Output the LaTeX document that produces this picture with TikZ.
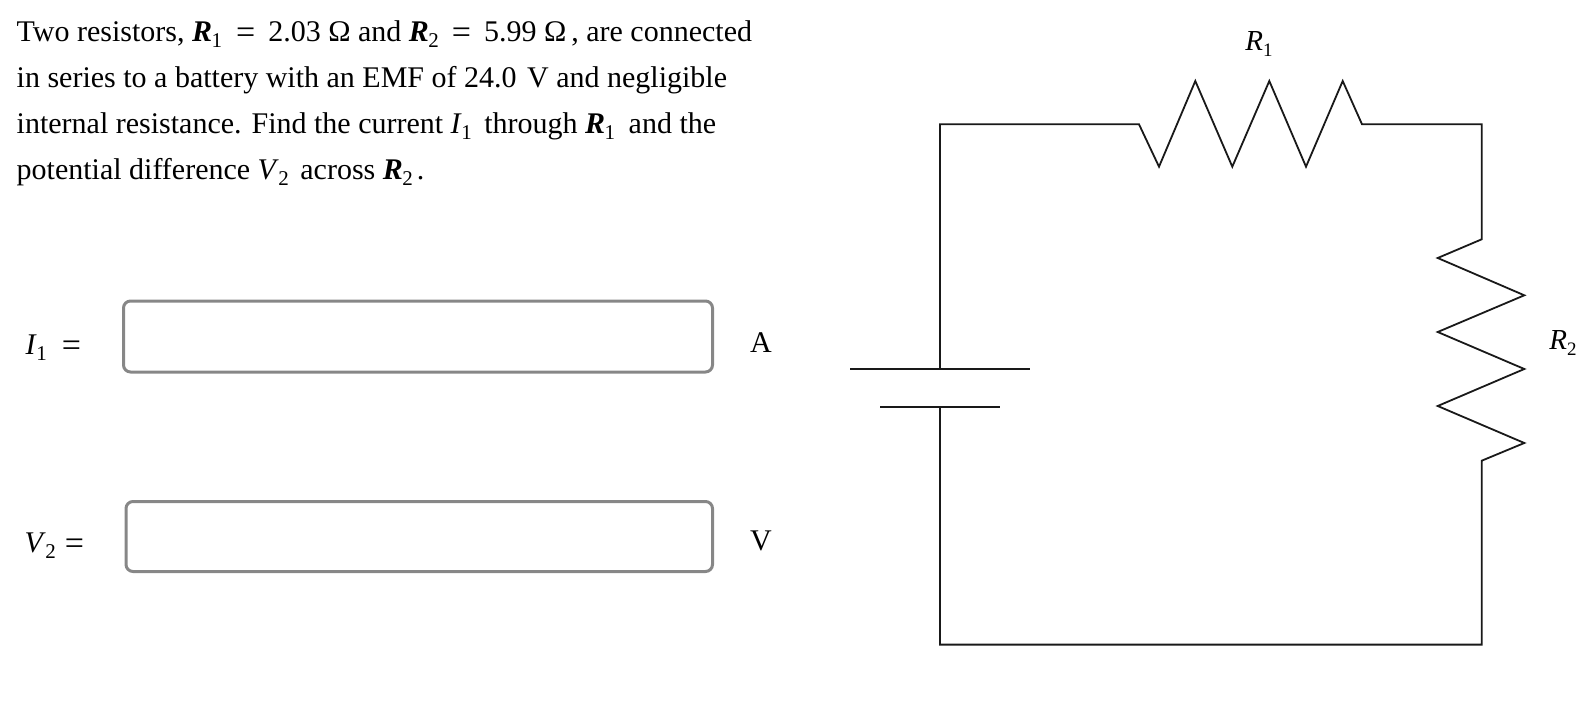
\documentclass[tikz,border=0pt]{standalone}
\usepackage{fontspec}
\setmainfont{Liberation Serif}
\usetikzlibrary{positioning}
\newcommand{\vsub}[2]{\textit{\bfseries #1}\kern-0.5pt{\fontsize{21}{21}\selectfont\raisebox{-6pt}{#2}}}
\newcommand{\lsub}[2]{\textit{#1}\kern-0.5pt{\fontsize{21}{21}\selectfont\raisebox{-6pt}{#2}}}
\newcommand{\eqsign}{\raisebox{-2pt}{\fontsize{34}{34}\selectfont =}}
\tikzset{
	wire/.style={line width=1.8pt, black!90, line join=miter},
	plate/.style={line width=1.8pt, black!90},
	answerbox/.style={line width=3pt, draw=black!47, rounded corners=7pt},
	textline/.style={anchor=base west, inner sep=0pt, font=\fontsize{30}{30}\selectfont},
	unitlabel/.style={anchor=base, inner sep=0pt, font=\fontsize{30}{30}\selectfont},
	reslabel/.style={inner sep=0pt, font=\fontsize{29}{29}\selectfont}
}
\begin{document}
\begin{tikzpicture}[x=1pt, y=-1pt]
	\useasboundingbox (0,0) rectangle (1594,714);

	\node[textline] (line1) at (16.5,42) {Two resistors, \vsub{R}{1}\hspace{14pt}\eqsign\hspace{13pt}2.03 Ω and \vsub{R}{2}\hspace{13pt}\eqsign\hspace{13pt}5.99 Ω\hspace{5pt}, are connected};
	\node[textline] (line2) at (16.5,88) {in series to a battery with an EMF of 24.0\hspace{3pt} V and negligible};
	\node[textline] (line3) at (16.5,133.5) {internal resistance. Find the current \lsub{I}{1}\hspace{5pt} through \vsub{R}{1}\hspace{6pt} and the};
	\node[textline] (line4) at (16.5,179) {potential difference \lsub{V}{2}\hspace{4pt} across \vsub{R}{2}\hspace{4pt}.};

	\draw[answerbox] (123.5,301) rectangle (712.5,372);
	\node[textline] (labelI) at (25.5,354) {\lsub{I}{1}\hspace{15pt}\eqsign};
	\node[unitlabel] (unitA) at (761,352) {A};

	\draw[answerbox] (126,501.5) rectangle (712.5,571.5);
	\node[textline] (labelV) at (24.5,552) {\lsub{V}{2}\hspace{9pt}\eqsign};
	\node[unitlabel] (unitV) at (761,550) {V};

	\coordinate (batTop) at (940,368.7);
	\coordinate (batBot) at (940,407.3);

	% top wire and first resistor
	\draw[wire] (batTop) -- (940,124.3) -- (1139,124.3)
	-- (1159,166.7) -- (1195.3,81) -- (1232.3,166.7) -- (1269.3,81)
	-- (1306,166.7) -- (1342.7,81) -- (1362,124.3) -- (1481.7,124.3)
	-- (1481.7,239.3)
	-- (1437.7,258) -- (1524.3,295.3) -- (1437.7,332) -- (1524.3,369)
	-- (1437.7,406) -- (1524.3,443) -- (1481.7,460.7)
	-- (1481.7,644.6) -- (940,644.6) -- (batBot);

	% battery
	\draw[plate] (850,368.7) -- (batTop) -- (1030,368.7);
	\draw[plate] (880,407.3) -- (batBot) -- (1000,407.3);

	\node[reslabel] (labelRa) at (1259,44) {\textit{R}\raisebox{-6pt}{\fontsize{19}{19}\selectfont 1}};
	\node[reslabel] (labelRb) at (1563,343) {\textit{R}\raisebox{-6pt}{\fontsize{19}{19}\selectfont 2}};
\end{tikzpicture}
\end{document}
